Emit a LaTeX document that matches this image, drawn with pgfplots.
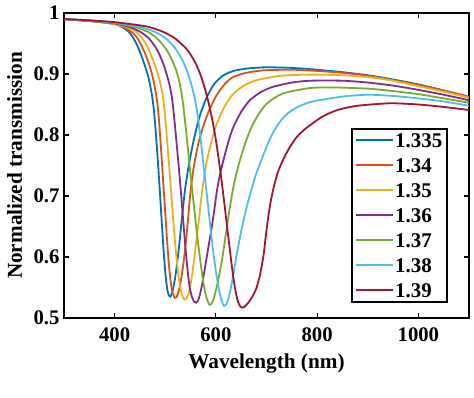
\documentclass[border=0pt]{standalone}
\usepackage{fontspec}
\setmainfont{Liberation Serif}
\usepackage{pgfplots}
\pgfplotsset{compat=1.18}
\definecolor{c1}{rgb}{0,0.447,0.741}
\definecolor{c2}{rgb}{0.85,0.325,0.098}
\definecolor{c3}{rgb}{0.929,0.694,0.125}
\definecolor{c4}{rgb}{0.494,0.184,0.556}
\definecolor{c5}{rgb}{0.466,0.674,0.188}
\definecolor{c6}{rgb}{0.301,0.745,0.933}
\definecolor{c7}{rgb}{0.635,0.078,0.184}
\begin{document}
\begin{tikzpicture}
\path (-64bp,-80bp) rectangle (410bp,318bp);
\begin{axis}[
  at={(0,0)}, anchor=south west,
  scale only axis, width=405bp, height=305bp,
  xmin=300, xmax=1100, ymin=0.5, ymax=1,
  xtick={400,600,800,1000}, ytick={0.5,0.6,0.7,0.8,0.9,1},
  /pgf/number format/1000 sep={},
  /pgf/number format/assume math mode=true,
  tick label style={font=\fontsize{20.8}{24}\selectfont\bfseries},
  xticklabel style={yshift=-6bp},
  yticklabel style={xshift=-1bp},
  xlabel={Wavelength (nm)}, ylabel={Normalized transmission},
  xlabel style={at={(axis description cs:0.5,-0.1475)}, anchor=center, font=\fontsize{21.3}{24}\selectfont\bfseries},
  ylabel style={at={(axis description cs:-0.122,0.5)}, anchor=center, rotate=0, font=\fontsize{21.3}{24}\selectfont\bfseries},
  tick align=inside, major tick length=5bp,
  tick style={line width=1.2bp, black},
  axis line style={line width=1.8bp},
  legend style={at={(axis description cs:0.709,0.623)}, anchor=north west, draw=black, line width=1.6bp, inner xsep=3bp, inner ysep=3bp, row sep=8bp, font=\fontsize{21}{24}\selectfont\bfseries, nodes={inner sep=1.5bp, text height=14bp, text depth=0pt}},
  legend image code/.code={\draw[#1, line width=1.8bp] (0bp,0bp) -- (37bp,0bp);},
  legend cell align=left,
  every axis plot/.append style={line width=1.8bp, smooth, tension=0.4},
]
\addplot[c1] coordinates {
(300,0.990)(350,0.987)(400,0.982)(415,0.977)(428,0.969)(437,0.959)(444,0.948)(452,0.932)(460,0.913)(466,0.897)(470,0.882)(474,0.864)(477,0.845)(480,0.818)(483,0.785)(486,0.750)(489,0.712)(492,0.672)(495,0.632)(498,0.596)(501,0.567)(504,0.547)(507,0.537)(510,0.535)(513,0.540)(516,0.550)(519,0.563)(523,0.587)(527,0.615)(531,0.648)(535,0.680)(539,0.710)(544,0.738)(549,0.762)(555,0.787)(562,0.812)(570,0.836)(582,0.862)(597,0.884)(615,0.898)(635,0.905)(661,0.909)(700,0.911)(750,0.910)(800,0.907)(850,0.903)(900,0.898)(950,0.891)(1000,0.883)(1050,0.873)(1100,0.862)};
\addlegendentry{1.335}
\addplot[c2] coordinates {
(300,0.990)(350,0.987)(400,0.982)(420,0.976)(435,0.968)(444,0.960)(451,0.950)(460,0.934)(468,0.916)(474,0.899)(478,0.884)(482,0.866)(485,0.848)(488,0.820)(491,0.785)(494,0.748)(497,0.710)(500,0.672)(503,0.635)(506,0.600)(509,0.572)(512,0.552)(515,0.540)(519,0.533)(522,0.534)(525,0.540)(529,0.553)(533,0.572)(537,0.597)(541,0.627)(545,0.662)(549,0.700)(554,0.735)(559,0.760)(566,0.788)(575,0.814)(588,0.843)(602,0.866)(618,0.884)(634,0.895)(660,0.902)(694,0.906)(750,0.907)(800,0.905)(850,0.902)(900,0.897)(950,0.890)(1000,0.882)(1050,0.873)(1100,0.863)};
\addlegendentry{1.34}
\addplot[c3] coordinates {
(300,0.990)(350,0.987)(400,0.982)(430,0.975)(444,0.968)(455,0.958)(463,0.947)(472,0.931)(480,0.913)(486,0.898)(491,0.882)(495,0.865)(499,0.838)(502,0.808)(505,0.777)(508,0.746)(511,0.713)(514,0.680)(517,0.648)(520,0.618)(524,0.585)(528,0.558)(532,0.541)(536,0.532)(539,0.530)(542,0.532)(546,0.540)(550,0.555)(554,0.576)(558,0.603)(562,0.630)(566,0.658)(570,0.688)(574,0.715)(582,0.757)(592,0.792)(602,0.819)(618,0.848)(634,0.867)(655,0.881)(681,0.890)(727,0.897)(786,0.899)(850,0.898)(900,0.895)(950,0.889)(1000,0.880)(1050,0.871)(1100,0.861)};
\addlegendentry{1.35}
\addplot[c4] coordinates {
(300,0.990)(350,0.987)(400,0.983)(430,0.977)(453,0.968)(468,0.958)(480,0.945)(488,0.933)(496,0.917)(502,0.902)(508,0.884)(513,0.862)(516,0.842)(519,0.817)(522,0.790)(525,0.763)(528,0.735)(531,0.706)(534,0.675)(537,0.644)(541,0.605)(545,0.571)(549,0.547)(553,0.534)(557,0.527)(561,0.525)(565,0.529)(569,0.540)(573,0.556)(577,0.575)(581,0.595)(585,0.615)(589,0.635)(593,0.655)(597,0.678)(602,0.708)(608,0.735)(615,0.759)(624,0.787)(634,0.812)(650,0.838)(667,0.857)(690,0.871)(713,0.879)(750,0.886)(786,0.889)(850,0.889)(900,0.886)(950,0.881)(1000,0.874)(1050,0.866)(1100,0.857)};
\addlegendentry{1.36}
\addplot[c5] coordinates {
(300,0.990)(350,0.987)(400,0.984)(440,0.977)(466,0.969)(483,0.959)(496,0.947)(506,0.935)(516,0.918)(522,0.905)(527,0.890)(531,0.874)(535,0.852)(538,0.831)(541,0.808)(544,0.784)(547,0.759)(550,0.734)(554,0.704)(558,0.673)(562,0.643)(566,0.615)(570,0.589)(574,0.565)(578,0.545)(582,0.532)(587,0.522)(591,0.523)(595,0.530)(599,0.542)(603,0.556)(608,0.576)(613,0.600)(617,0.622)(621,0.645)(627,0.678)(633,0.708)(640,0.735)(648,0.760)(659,0.789)(671,0.814)(685,0.835)(700,0.851)(720,0.863)(740,0.870)(786,0.877)(830,0.878)(900,0.876)(950,0.872)(1000,0.867)(1050,0.860)(1100,0.853)};
\addlegendentry{1.37}
\addplot[c6] coordinates {
(300,0.990)(350,0.988)(400,0.984)(450,0.977)(480,0.969)(500,0.959)(516,0.946)(527,0.933)(536,0.919)(543,0.905)(549,0.890)(554,0.875)(559,0.857)(563,0.838)(566,0.820)(569,0.800)(572,0.778)(576,0.748)(580,0.718)(584,0.688)(588,0.658)(592,0.628)(596,0.601)(600,0.577)(604,0.556)(608,0.539)(612,0.527)(616,0.520)(620,0.522)(624,0.530)(628,0.543)(632,0.560)(637,0.584)(642,0.608)(647,0.630)(652,0.650)(658,0.672)(664,0.692)(671,0.713)(680,0.737)(694,0.768)(707,0.794)(720,0.814)(736,0.831)(753,0.842)(786,0.854)(850,0.863)(900,0.866)(950,0.864)(1000,0.860)(1050,0.855)(1100,0.848)};
\addlegendentry{1.38}
\addplot[c7] coordinates {
(300,0.990)(350,0.988)(400,0.985)(463,0.978)(496,0.969)(520,0.958)(542,0.941)(553,0.928)(562,0.914)(569,0.900)(574,0.888)(580,0.871)(585,0.855)(590,0.837)(595,0.816)(598,0.802)(602,0.781)(606,0.758)(611,0.727)(615,0.700)(620,0.665)(624,0.637)(628,0.609)(632,0.582)(636,0.558)(640,0.539)(644,0.526)(648,0.519)(652,0.517)(656,0.518)(664,0.525)(672,0.535)(680,0.549)(687,0.570)(694,0.602)(698,0.630)(702,0.657)(707,0.685)(713,0.710)(722,0.738)(733,0.760)(746,0.780)(760,0.797)(775,0.809)(786,0.816)(810,0.830)(840,0.841)(880,0.848)(944,0.852)(1000,0.850)(1050,0.846)(1100,0.841)};
\addlegendentry{1.39}
\end{axis}
\end{tikzpicture}
\end{document}
